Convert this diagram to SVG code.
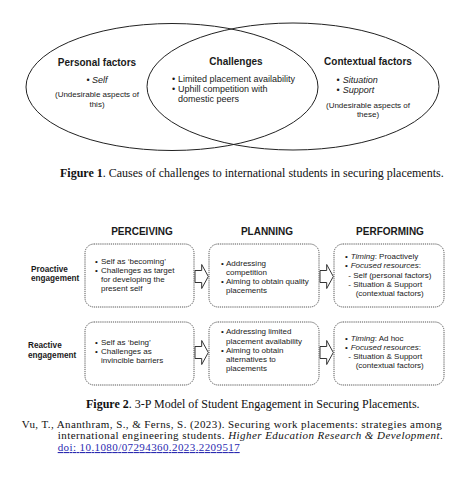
<svg xmlns="http://www.w3.org/2000/svg" width="474" height="484" viewBox="0 0 474 484">
<style>
.bg{fill:#fff}
.ell{fill:none;stroke:#222;stroke-width:1}
.box{fill:#fff;stroke:#555;stroke-width:1;stroke-dasharray:1.2 0.9}
.arr{fill:#fff;stroke:#333;stroke-width:1;stroke-linejoin:miter}
.s{font-family:"Liberation Sans",Arial,sans-serif;fill:#1a1a1a}
.h{font-weight:bold;font-size:10px}
.lab{font-weight:bold;font-size:8.2px}
.t8{font-size:8px}
.t9{font-size:9px}
.i{font-style:italic}
.m{text-anchor:middle}
.ser{font-family:"Liberation Serif","Times New Roman",serif;font-size:12px;fill:#111}
.cit{font-size:11px}
.b{font-weight:bold}
.doi{fill:#2a2ab0;text-decoration:underline}
</style>
<rect class="bg" x="0" y="0" width="474" height="484"/>

<g id="fig1">
  <g id="personal-factors">
    <ellipse class="ell" cx="172" cy="87" rx="146" ry="63.5"/>
    <text class="s h m" x="97" y="66">Personal factors</text>
    <text class="s t9 m" x="97" y="83">• <tspan class="i">Self</tspan></text>
    <text class="s t8 m" x="97" y="97">(Undesirable aspects of</text>
    <text class="s t8 m" x="97" y="107">this)</text>
  </g>
  <g id="contextual-factors">
    <ellipse class="ell" cx="293" cy="86.5" rx="146" ry="63.5"/>
    <text class="s h m" x="368" y="65">Contextual factors</text>
    <text class="s t9" x="336.5" y="83">•</text>
    <text class="s t9 i" x="342.7" y="83">Situation</text>
    <text class="s t9" x="336.5" y="93">•</text>
    <text class="s t9 i" x="342.7" y="93">Support</text>
    <text class="s t8 m" x="368" y="108">(Undesirable aspects of</text>
    <text class="s t8 m" x="368" y="117">these)</text>
  </g>
  <g id="challenges">
    <text class="s h m" x="236" y="65">Challenges</text>
    <text class="s t9" x="172" y="82">•</text>
    <text class="s t9" x="178" y="82">Limited placement availability</text>
    <text class="s t9" x="172" y="92">•</text>
    <text class="s t9" x="178" y="92">Uphill competition with</text>
    <text class="s t9" x="178" y="102">domestic peers</text>
  </g>
  <text id="caption1" class="ser" x="60" y="177"><tspan class="b">Figure 1</tspan>. Causes of challenges to international students in securing placements.</text>
</g>

<g id="fig2">
  <g id="headers">
    <text class="s h m" x="142" y="235">PERCEIVING</text>
    <text class="s h m" x="267" y="235">PLANNING</text>
    <text class="s h m" x="390" y="235">PERFORMING</text>
  </g>
  <g id="row-labels">
    <text class="s lab" x="31" y="272">Proactive</text>
    <text class="s lab" x="31" y="281">engagement</text>
    <text class="s lab" x="28" y="348">Reactive</text>
    <text class="s lab" x="28" y="358">engagement</text>
  </g>

  <g id="connectors">
    <path class="arr" d="M195,270.5 H201.7 V264.5 L208.3,276.5 L201.7,288.5 V282.5 H195 Z"/>
    <path class="arr" d="M320,270.5 H326.7 V264.5 L333.3,276.5 L326.7,288.5 V282.5 H320 Z"/>
    <path class="arr" d="M195,346.5 H201.7 V340.5 L208.3,352.5 L201.7,364.5 V358.5 H195 Z"/>
    <path class="arr" d="M320,346.5 H326.7 V340.5 L333.3,352.5 L326.7,364.5 V358.5 H320 Z"/>
  </g>

  <g id="perceiving-proactive">
    <rect class="box" x="85" y="244" width="109" height="63" rx="9"/>
    <text class="s t8" x="95" y="264">•</text>
    <text class="s t8" x="101" y="264">Self as ‘becoming’</text>
    <text class="s t8" x="95" y="273">•</text>
    <text class="s t8" x="101" y="273">Challenges as target</text>
    <text class="s t8" x="101" y="282">for developing the</text>
    <text class="s t8" x="101" y="291">present self</text>
  </g>
  <g id="planning-proactive">
    <rect class="box" x="209" y="244" width="110" height="63" rx="9"/>
    <text class="s t8" x="221" y="265.7">•</text>
    <text class="s t8" x="226" y="265.7">Addressing</text>
    <text class="s t8" x="226" y="274.5">competition</text>
    <text class="s t8" x="221" y="284">•</text>
    <text class="s t8" x="226" y="284">Aiming to obtain quality</text>
    <text class="s t8" x="226" y="292.7">placements</text>
  </g>
  <g id="performing-proactive">
    <rect class="box" x="334" y="244" width="110" height="63" rx="9"/>
    <text class="s t8" x="345" y="259">•</text>
    <text class="s t8" x="350.7" y="259"><tspan class="i">Timing</tspan>: Proactively</text>
    <text class="s t8" x="345" y="268.3">•</text>
    <text class="s t8 i" x="350.7" y="268.3">Focused resources<tspan font-style="normal">:</tspan></text>
    <text class="s t8" x="348.3" y="277.5">- Self (personal factors)</text>
    <text class="s t8" x="348.3" y="286.7">- Situation &amp; Support</text>
    <text class="s t8" x="355.7" y="296">(contextual factors)</text>
  </g>

  <g id="perceiving-reactive">
    <rect class="box" x="85" y="322" width="109" height="63" rx="9"/>
    <text class="s t8" x="95" y="345">•</text>
    <text class="s t8" x="101" y="345">Self as ‘being’</text>
    <text class="s t8" x="95" y="354.3">•</text>
    <text class="s t8" x="101" y="354.3">Challenges as</text>
    <text class="s t8" x="101" y="363.3">invincible barriers</text>
  </g>
  <g id="planning-reactive">
    <rect class="box" x="209" y="322" width="110" height="63" rx="9"/>
    <text class="s t8" x="221" y="334.3">•</text>
    <text class="s t8" x="226" y="334.3">Addressing limited</text>
    <text class="s t8" x="226" y="343.7">placement availability</text>
    <text class="s t8" x="221" y="352.5">•</text>
    <text class="s t8" x="226" y="352.5">Aiming to obtain</text>
    <text class="s t8" x="226" y="361.7">alternatives to</text>
    <text class="s t8" x="226" y="370.7">placements</text>
  </g>
  <g id="performing-reactive">
    <rect class="box" x="334" y="322" width="110" height="63" rx="9"/>
    <text class="s t8" x="345" y="340.7">•</text>
    <text class="s t8" x="350.7" y="340.7"><tspan class="i">Timing</tspan>: Ad hoc</text>
    <text class="s t8" x="345" y="350">•</text>
    <text class="s t8 i" x="350.7" y="350">Focused resources<tspan font-style="normal">:</tspan></text>
    <text class="s t8" x="348.3" y="359.3">- Situation &amp; Support</text>
    <text class="s t8" x="355.7" y="368.3">(contextual factors)</text>
  </g>

  <text id="caption2" class="ser" x="86" y="408.3"><tspan class="b">Figure 2</tspan>. 3-P Model of Student Engagement in Securing Placements.</text>
</g>

<g id="citation">
  <text class="ser cit" x="21.7" y="427.5" textLength="420" lengthAdjust="spacing">Vu, T., Ananthram, S., &amp; Ferns, S. (2023). Securing work placements: strategies among</text>
  <text class="ser cit" x="57.7" y="439.3" textLength="385" lengthAdjust="spacing">international engineering students. <tspan font-style="italic">Higher Education Research &amp; Development</tspan>.</text>
  <text class="ser cit doi" x="57.7" y="451" textLength="182" lengthAdjust="spacing">doi: 10.1080/07294360.2023.2209517</text>
</g>
</svg>
